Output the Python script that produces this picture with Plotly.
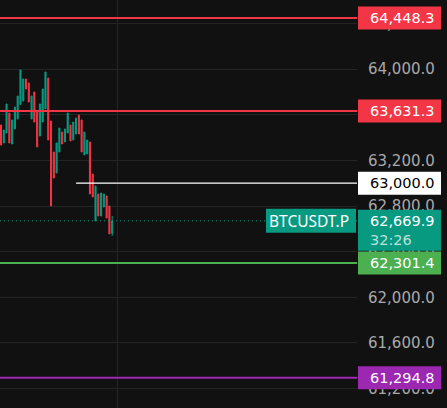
import plotly.graph_objects as go

# ---- data ----
idx = list(range(41))
open_ = [63510, 63352, 63440, 63615, 63343, 63475, 63562, 63690, 63720, 63913,
         63878, 63562, 63799, 63632, 63413, 63536, 63650, 63921, 63545, 63273,
         63089, 63273, 63448, 63361, 63440, 63510, 63378, 63431, 63597, 63554,
         63247, 63256, 63361, 63080, 62669, 62905, 62712, 62791, 62888, 62800,
         62560]
high = [63510, 63466, 63694, 63615, 63554, 63667, 63764, 63992, 63913, 63913,
        63878, 63764, 63799, 63632, 63694, 63825, 63974, 63921, 63545, 63273,
        63352, 63483, 63448, 63475, 63615, 63510, 63536, 63571, 63597, 63554,
        63448, 63378, 63361, 63080, 62975, 62905, 62914, 62905, 62888, 62800,
        62712]
low = [63334, 63352, 63440, 63352, 63343, 63475, 63562, 63690, 63720, 63825,
       63711, 63562, 63536, 63317, 63413, 63536, 63650, 63378, 62800, 63045,
       63089, 63273, 63343, 63361, 63440, 63370, 63378, 63431, 63431, 63273,
       63247, 63256, 62905, 62879, 62669, 62712, 62712, 62791, 62695, 62555,
       62537]
close = [63334, 63466, 63694, 63352, 63554, 63667, 63764, 63992, 63913, 63825,
         63711, 63764, 63536, 63317, 63694, 63825, 63974, 63378, 62800, 63045,
         63352, 63483, 63343, 63475, 63615, 63370, 63536, 63571, 63431, 63273,
         63448, 63378, 62905, 62879, 62975, 62712, 62914, 62905, 62695, 62555,
         62669.9]

symbol = "BTCUSDT.P"
last_price = 62669.9
countdown = "32:26"

level_values = [64448.3, 63631.3, 63000.0, 62301.4, 61294.8]
level_colors = ["#f23645", "#f23645", "#ffffff", "#4caf50", "#9c27b0"]
level_text_colors = ["#ffffff", "#ffffff", "#000000", "#ffffff", "#ffffff"]
level_widths = [2, 2, 1.3, 2, 2]
level_start = [None, None, 27, None, None]  # candle index where line starts

y_range = [61030, 64605]
x_range = [-0.36, 128.06]
x_grid = [41.8]

UP = "#089981"
DOWN = "#f23645"
BG = "#111111"
GRID = "#242424"
AXIS_TEXT = "#a9a9a9"
NUM_FONT = "DejaVu Sans"
SYM_FONT = "Noto Sans"

fig = go.Figure()
fig.add_trace(go.Candlestick(
    x=idx, open=open_, high=high, low=low, close=close,
    increasing=dict(line=dict(color=UP, width=1), fillcolor=UP),
    decreasing=dict(line=dict(color=DOWN, width=1), fillcolor=DOWN),
    whiskerwidth=0, showlegend=False, hoverinfo="skip",
))

shapes = []
annotations = []

# current price dotted line
shapes.append(dict(type="line", xref="paper", x0=0, x1=1, yref="y",
                   y0=last_price, y1=last_price,
                   line=dict(color=UP, width=1, dash="1px,3px"), layer="above"))

for v, c, tc, w, s in zip(level_values, level_colors, level_text_colors,
                          level_widths, level_start):
    if s is None:
        shapes.append(dict(type="line", xref="paper", x0=0, x1=1, yref="y",
                           y0=v, y1=v, line=dict(color=c, width=w), layer="above"))
    else:
        shapes.append(dict(type="line", xref="x", x0=s, x1=x_range[1], yref="y",
                           y0=v, y1=v, line=dict(color=c, width=w), layer="above"))
    shapes.append(dict(type="rect", xref="paper", xsizemode="pixel", xanchor=1,
                       x0=1, x1=84, yref="y", ysizemode="pixel", yanchor=v,
                       y0=-11.5, y1=11.5, fillcolor=c, line=dict(width=0),
                       layer="above"))
    annotations.append(dict(x=1, xref="paper", xanchor="left", xshift=11,
                            y=v, yref="y", yanchor="middle",
                            text=f"{v:,.1f}", showarrow=False,
                            font=dict(family=NUM_FONT, size=14.5, color=tc)))

# current price badge on axis
shapes.append(dict(type="rect", xref="paper", xsizemode="pixel", xanchor=1,
                   x0=1, x1=84, yref="y", ysizemode="pixel", yanchor=last_price,
                   y0=-30, y1=11, fillcolor=UP, line=dict(width=0), layer="above"))
annotations.append(dict(x=1, xref="paper", xanchor="left", xshift=11,
                        y=last_price, yref="y", yanchor="top", yshift=10,
                        align="left",
                        text=f"{last_price:,.1f}<br><span style='color:rgba(255,255,255,0.72)'>{countdown}</span>",
                        showarrow=False,
                        font=dict(family=NUM_FONT, size=14.5, color="#ffffff")))
# symbol badge
shapes.append(dict(type="rect", xref="paper", xsizemode="pixel", xanchor=1,
                   x0=-91, x1=-1, yref="y", ysizemode="pixel", yanchor=last_price,
                   y0=-12, y1=12, fillcolor=UP, line=dict(width=0), layer="above"))
annotations.append(dict(x=1, xref="paper", xanchor="right", xshift=-6,
                        y=last_price, yref="y", yanchor="middle",
                        text=symbol, showarrow=False,
                        font=dict(family=SYM_FONT, size=15.5, color="#ffffff")))

fig.update_layout(
    width=447, height=408,
    margin=dict(l=0, r=90, t=0, b=0),
    paper_bgcolor=BG, plot_bgcolor=BG,
    boxgap=0.45,
    shapes=shapes, annotations=annotations,
    xaxis=dict(range=x_range, rangeslider=dict(visible=False),
               tickvals=x_grid, showticklabels=False, showgrid=True,
               gridcolor=GRID, zeroline=False, showline=False),
    yaxis=dict(range=y_range, side="right", dtick=400, tickformat=",.1f",
               showgrid=True, gridcolor=GRID, zeroline=False, showline=False,
               ticks="", ticklabelstandoff=10,
               tickfont=dict(family=NUM_FONT, size=15, color=AXIS_TEXT)),
    font=dict(family=NUM_FONT),
)

fig.write_html("out.html",
               config={"displayModeBar": False},
               post_script="document.body.style.margin='0';"
                           "document.body.style.background='%s';" % BG)
